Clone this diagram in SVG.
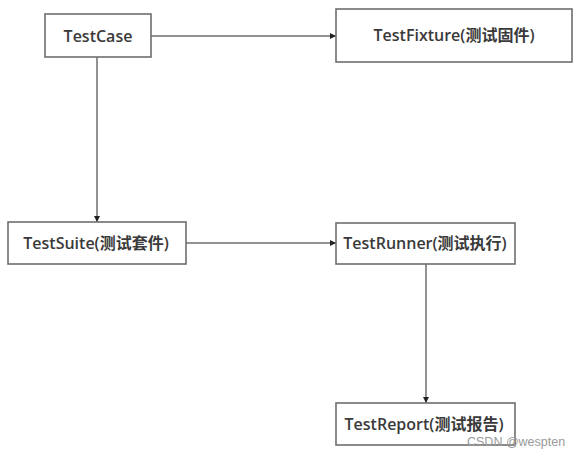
<svg xmlns="http://www.w3.org/2000/svg" width="579" height="458" viewBox="0 0 579 458">
<style>
.box{fill:#fff;stroke:#6e6e6e;stroke-width:1.6}
.lbl{font-family:"Open Sans","Noto Sans CJK SC",sans-serif;font-size:16px;font-weight:600;fill:#3a3a3a;text-anchor:middle;dominant-baseline:central}
.edge{stroke:#6e6e6e;stroke-width:1.5;fill:none;marker-end:url(#arr)}
.wm{font-family:"Liberation Sans",Arial,sans-serif;font-size:12.5px;fill:#9a9a9a}
</style>
<defs>
<marker id="arr" viewBox="0 0 10 10" refX="10" refY="5" markerWidth="6" markerHeight="6" markerUnits="userSpaceOnUse" orient="auto">
<path d="M0,0 L10,5 L0,10 z" fill="#222"/>
</marker>
</defs>
<rect width="579" height="458" fill="#fff"/>
<g id="connectors">
<line class="edge" x1="151" y1="36" x2="336" y2="36"/>
<line class="edge" x1="97" y1="57" x2="97" y2="222"/>
<line class="edge" x1="186" y1="243" x2="336" y2="243"/>
<line class="edge" x1="426" y1="264" x2="426" y2="403"/>
</g>
<g id="testcase">
<rect class="box" x="45" y="14" width="106" height="43"/>
<text class="lbl" x="98" y="36">TestCase</text>
</g>
<g id="testfixture">
<rect class="box" x="336" y="9" width="236" height="53"/>
<text class="lbl" x="454" y="35">TestFixture(测试固件)</text>
</g>
<g id="testsuite">
<rect class="box" x="8" y="222" width="178" height="42"/>
<text class="lbl" x="96" y="243">TestSuite(测试套件)</text>
</g>
<g id="testrunner">
<rect class="box" x="336" y="223" width="179" height="41"/>
<text class="lbl" x="425" y="243">TestRunner(测试执行)</text>
</g>
<g id="testreport">
<rect class="box" x="336" y="403" width="179" height="42"/>
<text class="lbl" x="424" y="424">TestReport(测试报告)</text>
</g>
<text class="wm" x="467" y="446">CSDN @wespten</text>
</svg>
